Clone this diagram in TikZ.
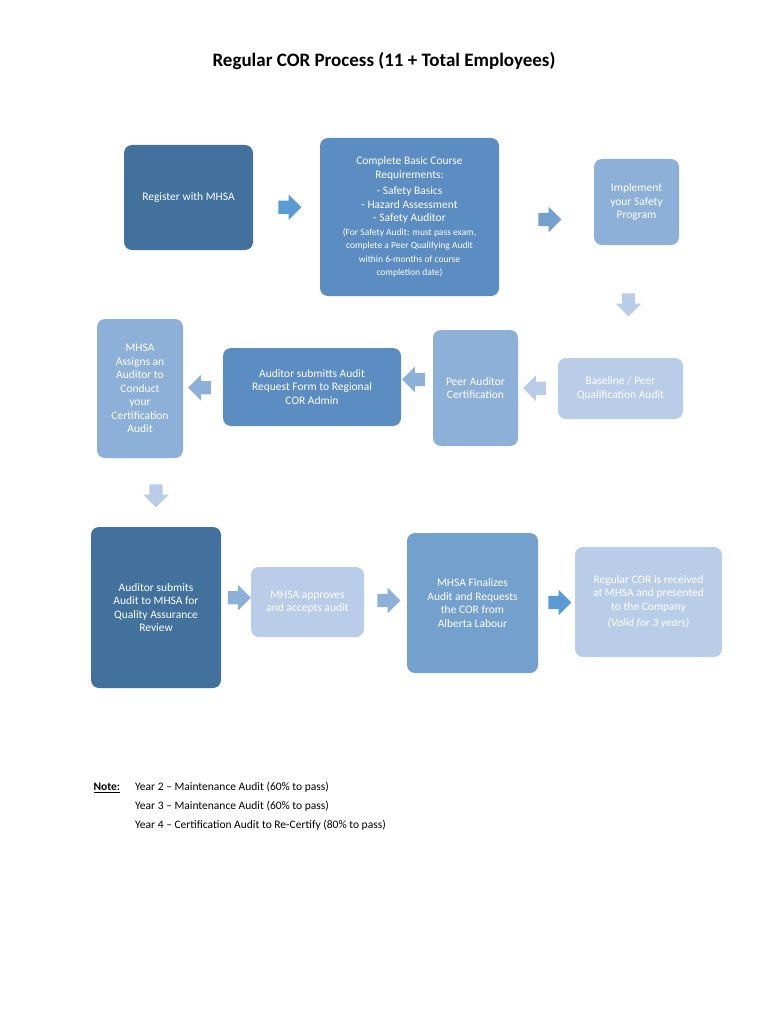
\documentclass[tikz,border=0pt]{standalone}
\usepackage{fontspec}
\setmainfont{Carlito}
\usetikzlibrary{shapes.arrows,calc}
\definecolor{darkbl}{HTML}{41719C}
\definecolor{midbl}{HTML}{5B8CC2}
\definecolor{medbl}{HTML}{74A0CE}
\definecolor{softbl}{HTML}{8DB0D8}
\definecolor{palebl}{HTML}{B9CDE8}
\definecolor{arrbl}{HTML}{5B9BD5}
\tikzset{
  stepbox/.style={draw=none, rounded corners=8pt, text=white, align=center, font=\fontsize{11.5}{13.5}\selectfont, inner sep=2pt},
  blk/.style={single arrow, draw=none, fill=#1, minimum height=23pt, inner sep=6.5pt, single arrow head extend=6pt},
}
\begin{document}
\begin{tikzpicture}[x=1pt,y=-1pt]
\useasboundingbox (0,0) rectangle (768,1024);

\node[font=\bfseries\fontsize{19}{22}\selectfont] (title) at (384,61) {Regular COR Process (11 + Total Employees)};

% first row
\node[stepbox, fill=darkbl, minimum width=129pt, minimum height=105pt] (reg) at (188.5,197.5) {Register with MHSA};
\node[stepbox, fill=midbl, minimum width=179pt, minimum height=158pt] (course) at (409.5,217) {Complete Basic Course\\Requirements:\\[3pt]- Safety Basics\\- Hazard Assessment\\- Safety Auditor\\{\fontsize{9.5}{11.5}\selectfont (For Safety Audit: must pass exam,}\\{\fontsize{9.5}{11.5}\selectfont complete a Peer Qualifying Audit}\\{\fontsize{9.5}{11.5}\selectfont within 6-months of course}\\{\fontsize{9.5}{11.5}\selectfont completion date)}};
\node[stepbox, fill=softbl, minimum width=85pt, minimum height=86pt] (impl) at (636.5,202) {Implement\\your Safety\\Program};

% second row
\node[stepbox, fill=palebl, minimum width=125pt, minimum height=61pt] (base) at (620.5,388.5) {Baseline / Peer\\Qualification Audit};
\node[stepbox, fill=softbl, minimum width=85pt, minimum height=116pt] (peer) at (475.5,388) {Peer Auditor\\Certification};
\node[stepbox, fill=midbl, minimum width=178pt, minimum height=78pt] (req) at (312,387) {Auditor submitts Audit\\Request Form to Regional\\COR Admin};
\node[stepbox, fill=softbl, minimum width=86pt, minimum height=139pt] (assign) at (140,388.5) {MHSA\\Assigns an\\Auditor to\\Conduct\\your\\Certification\\Audit};

% third row
\node[stepbox, fill=darkbl, minimum width=130pt, minimum height=161pt] (qa) at (156,607.5) {Auditor submits\\Audit to MHSA for\\Quality Assurance\\Review};
\node[stepbox, fill=palebl, minimum width=113pt, minimum height=70pt] (appr) at (307.5,602) {MHSA approves\\and accepts audit};
\node[stepbox, fill=medbl, minimum width=131pt, minimum height=140pt] (fin) at (472.5,603) {MHSA Finalizes\\Audit and Requests\\the COR from\\Alberta Labour};
\node[stepbox, fill=palebl, minimum width=147pt, minimum height=110pt] (cor) at (648.5,602) {Regular COR is received\\at MHSA and presented\\to the Company\\[3pt]\textit{(Valid for 3 years)}};

% block arrows
\node[blk=arrbl] (a1) at ($(reg.east)!0.5!(course.west)$) {};
\node[blk=medbl] (a2) at ($(course.east)!0.5!(impl.west)+(0,10)$) {};
\node[blk=palebl, rotate=-90] (a3) at ($(impl.south)!0.5!(base.north)$) {};
\node[blk=palebl, rotate=180] (a4) at ($(base.west)!0.5!(peer.east)$) {};
\node[blk=softbl, rotate=180] (a5) at ($(peer.west)!0.5!(req.east)+(0,-8)$) {};
\node[blk=softbl, rotate=180] (a6) at ($(req.west)!0.5!(assign.east)$) {};
\node[blk=palebl, rotate=-90] (a7) at ($(assign.south)!0.5!(qa.north)+(8,0)$) {};
\node[blk=softbl] (a8) at ($(qa.east)!0.5!(appr.west)+(0,-7)$) {};
\node[blk=softbl] (a9) at ($(appr.east)!0.5!(fin.west)+(0,-2)$) {};
\node[blk=arrbl] (a10) at ($(fin.east)!0.5!(cor.west)$) {};

% note
\node[anchor=west, font=\bfseries\fontsize{11.5}{14}\selectfont] (note) at (90,788) {\underline{Note:}};
\node[anchor=north west, align=left, inner sep=0pt, font=\fontsize{11.5}{19}\selectfont] (years) at (135,782) {Year 2 -- Maintenance Audit (60\% to pass)\\Year 3 -- Maintenance Audit (60\% to pass)\\Year 4 -- Certification Audit to Re-Certify (80\% to pass)};
\end{tikzpicture}
\end{document}
